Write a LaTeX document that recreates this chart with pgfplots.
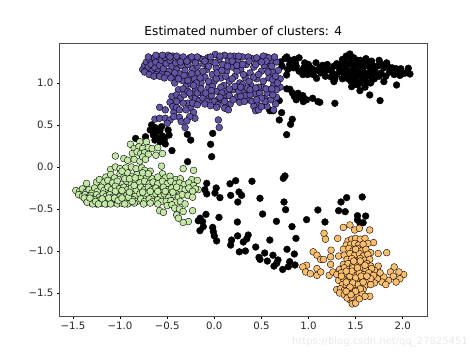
\documentclass[border=0pt]{standalone}
\usepackage{fontspec}
\setmainfont{DejaVu Sans}
\usepackage{pgfplots}
\pgfplotsset{compat=1.18}
\definecolor{cpurple}{RGB}{98,83,165}
\definecolor{cgreen}{RGB}{195,232,165}
\definecolor{corange}{RGB}{253,190,110}
\begin{document}
\begin{tikzpicture}[x=1pt,y=1pt]
\useasboundingbox (0,0) rectangle (474,355);
\begin{axis}[at={(59.5pt,39pt)},anchor=south west,scale only axis,width=367.5pt,height=273pt,
 xmin=-1.643,xmax=2.258,ymin=-1.774,ymax=1.476,
 xtick={-1.5,-1,-0.5,0,0.5,1,1.5,2},ytick={-1.5,-1,-0.5,0,0.5,1},
 xticklabels={−1.5,−1.0,−0.5,0.0,0.5,1.0,1.5,2.0},
 yticklabels={−1.5,−1.0,−0.5,0.0,0.5,1.0},
 tick style={black,line width=0.6pt},tick align=outside,major tick length=2.6pt,
 axis line style={black!70,line width=0.8pt},
 tick label style={font=\fontsize{10.2}{12}\selectfont,text=black!85},
 xtick pos=lower,ytick pos=left,
 title={Estimated number of clusters: 4},title style={font=\fontsize{12.2}{14}\selectfont,yshift=-2pt},
 every axis plot/.style={only marks,mark=*,mark size=3.4pt,mark options={draw=black,line width=0.9pt}}]
% noise
\addplot[mark options={fill=black}] coordinates {
(-0.08,-0.195)(-0.10,-0.27)(-0.08,-0.32)(0.02,-0.25)(0.007,-0.31)(0.06,-0.365)(0.167,-0.20)(0.227,-0.163)(0.40,-0.17)(0.174,-0.338)(0.262,-0.298)(0.29,-0.338)(0.25,-0.417)(0.485,-0.373)(0.733,-0.135)(0.75,-0.107)(0.74,-0.417)(0.757,-0.508)(0.513,-0.56)(0.66,-0.647)(0.245,-0.655)(0.05,-0.60)(-0.088,-0.564)(-0.15,-0.61)(-0.124,-0.65)(-0.17,-0.64)(-0.117,-0.71)(-0.152,-0.758)(-0.017,-0.72)(-0.01,-0.77)(0,-0.82)(0.025,-0.88)(0.184,-0.87)(0.174,-0.93)(0.248,-0.82)(0.36,-0.81)(0.344,-0.857)(0.308,-0.893)(0.59,-0.87)(0.867,-0.85)(0.825,-0.71)(0.98,-0.627)(1.10,-0.512)(1.175,-0.655)(1.32,-0.52)(1.39,-0.532)(1.345,-0.417)(1.405,-0.365)(1.57,-0.357)(1.52,-0.58)(1.607,-0.584)(1.52,-0.63)(1.547,-0.67)(1.58,-0.663)(0.266,-1.01)(0.33,-1.0)(0.44,-0.953)(0.535,-1.024)(0.475,-1.076)(0.485,-1.10)(0.563,-1.12)(0.623,-1.05)(0.676,-1.107)(0.662,-1.147)(0.634,-1.18)(0.772,-0.98)(0.85,-1.036)(0.80,-1.127)(0.857,-1.167)(0.786,-1.187)(0.726,-1.22)
(-0.665,0.50)(-0.68,0.44)(-0.577,0.433)(-0.49,0.44)(-0.48,0.38)(-0.647,0.38)(-0.63,0.32)(-0.577,0.30)(-0.52,0.274)(-0.449,0.195)(-0.286,0.389)(-0.25,0.32)(-0.017,0.40)(-0.039,0.27)(-0.028,0.123)(-0.283,0.063)(-0.835,0.34)(-0.73,0.36)(-0.61,0.42)(-0.55,0.37)(-0.60,0.34)(-0.53,0.33)(-0.63,0.47)(-0.56,0.48)
(0.69,0.79)(0.612,0.67)(0.715,0.647)(0.69,0.56)(0.828,0.568)(0.81,0.508)(0.768,0.385)(0.59,0.67)(0.626,0.67)(0.768,1.095)(1.086,1.055)(1.27,1.016)(1.80,1.016)(1.935,0.976)(1.458,0.956)(1.546,0.909)(1.65,0.857)(1.76,0.79)(1.28,0.758)(0.803,0.925)(0.77,0.93)(0.89,0.877)(0.945,0.778)(0.87,0.80)(0.92,0.83)(1.044,0.818)(1.10,0.778)(1.12,0.77)(0.83,0.88)(0.98,0.80)(0.94,0.85)(0.85,0.84)
(0.70,1.25)(0.75,1.29)(0.77,1.31)(0.80,1.22)(0.85,1.28)(0.87,1.20)(0.90,1.30)(0.93,1.15)(0.96,1.24)(0.99,1.10)(1.02,1.18)(1.05,1.16)(1.08,1.24)(1.10,1.15)(1.13,1.12)(1.15,1.21)(1.18,1.08)(1.21,1.16)(1.24,1.07)(1.27,1.20)(1.30,1.23)(1.30,1.10)(1.33,1.16)(1.36,1.28)(1.36,1.05)(1.39,1.20)(1.40,1.32)(1.41,1.10)(1.44,1.345)(1.44,1.25)(1.45,1.02)(1.46,1.15)(1.48,1.30)(1.49,1.08)(1.51,1.21)(1.52,0.98)(1.54,1.13)(1.55,1.27)(1.57,1.04)(1.58,1.18)(1.60,0.95)(1.61,1.29)(1.63,1.10)(1.64,1.20)(1.66,1.00)(1.67,1.26)(1.69,1.14)(1.70,1.05)(1.73,1.20)(1.75,1.27)(1.77,1.12)(1.80,1.18)(1.83,1.24)(1.86,1.13)(1.89,1.18)(1.91,1.10)(1.95,1.14)(1.98,1.17)(2.00,1.11)(2.03,1.12)(2.06,1.175)(2.077,1.107)(1.40,1.15)(1.50,1.15)(1.55,1.10)(1.60,1.12)(1.60,1.05)(1.45,1.10)(1.50,1.03)(1.65,1.08)(1.70,1.15)(1.35,1.13)(1.75,1.08)(0.80,1.27)(0.86,1.24)(0.95,1.18)(1.00,1.14)(0.72,1.20)
(0.78,1.16)(0.84,1.18)(0.90,1.14)(0.94,1.10)(1.00,1.22)(1.05,1.10)(1.12,1.18)(1.17,1.14)(1.20,1.22)(1.25,1.13)(1.28,1.05)(1.33,1.22)(1.38,1.08)(1.42,1.22)(1.47,1.22)(1.52,1.09)(1.56,1.20)(1.62,1.24)(1.66,1.16)(1.72,1.10)(1.78,1.22)(1.82,1.08)(1.85,1.19)(1.93,1.17)(1.97,1.09)(1.55,1.00)(1.48,0.98)(1.42,1.05)(1.62,1.00)(1.68,1.05)(1.58,1.25)(1.68,1.21)(1.52,1.27)(1.45,1.29)(1.38,1.25)
};
% cluster 1
\addplot[mark options={fill=cpurple}] coordinates {
(-0.76,1.16)(-0.74,1.21)(-0.72,1.25)(-0.72,1.15)(-0.70,1.19)(-0.68,1.27)(-0.67,1.22)(-0.66,1.14)(-0.64,1.30)(-0.63,1.18)(-0.62,1.25)(-0.60,1.13)(-0.59,1.31)(-0.58,1.21)(-0.56,1.27)(-0.55,1.12)(-0.54,1.17)(-0.52,1.30)(-0.51,1.23)(-0.49,1.33)(-0.48,1.14)(-0.47,1.27)(-0.45,1.20)(-0.44,1.32)(-0.43,1.08)(-0.41,1.24)(-0.40,1.16)(-0.38,1.29)(-0.37,1.11)(-0.35,1.21)(-0.34,1.03)(-0.33,1.27)(-0.31,1.15)(-0.30,0.96)(-0.28,1.22)(-0.27,1.08)(-0.26,1.30)(-0.25,0.99)(-0.23,1.17)(-0.22,1.27)(-0.21,1.05)(-0.20,0.92)(-0.18,1.20)(-0.17,1.12)(-0.15,1.29)(-0.14,1.00)(-0.12,0.88)(-0.11,1.23)(-0.10,1.07)(-0.08,1.16)(-0.07,1.30)(-0.06,0.95)(-0.05,0.83)(-0.03,1.25)(-0.02,1.10)(0.00,1.02)(0.01,1.34)(0.02,1.18)(0.03,0.90)(0.04,0.80)(0.05,1.28)(0.07,1.06)(0.09,1.22)(0.10,0.97)(0.11,1.33)(0.12,0.85)(0.13,1.14)(0.15,1.27)(0.16,1.02)(0.17,0.75)(0.19,1.19)(0.20,0.92)(0.21,1.32)(0.22,1.08)(0.24,0.83)(0.25,1.26)(0.27,1.00)(0.28,1.16)(0.30,1.31)(0.31,0.90)(0.33,1.06)(0.34,1.22)(0.36,0.80)(0.38,1.12)(0.39,0.97)(0.40,1.29)(0.42,1.19)(0.43,0.87)(0.45,1.05)(0.46,0.74)(0.48,1.26)(0.50,1.14)(0.51,0.95)(0.53,0.82)(0.55,1.31)(0.56,1.20)(0.58,1.06)(0.59,0.90)(0.60,1.27)(0.62,1.13)(0.63,0.98)(0.66,1.25)(0.66,0.83)(0.68,1.15)(0.70,1.05)(0.70,0.95)(0.65,0.75)(0.60,0.80)(0.56,0.72)
(-0.74,1.13)(-0.69,1.10)(-0.62,1.10)(-0.50,1.10)(-0.42,1.00)(-0.38,0.92)(-0.33,0.93)(-0.45,0.84)(-0.40,0.86)(-0.36,0.82)(-0.32,0.86)(-0.28,0.90)(-0.24,0.84)(-0.20,0.82)(-0.16,0.79)(-0.12,0.82)(-0.08,0.78)(-0.03,0.85)(0.00,0.78)(0.04,0.74)(0.08,0.80)(0.12,0.72)(0.14,0.90)(0.22,0.96)(0.26,0.90)(0.30,0.98)(0.35,0.94)(0.40,0.78)(0.42,0.72)(0.44,0.67)(0.47,0.68)(0.50,0.72)(0.54,0.78)(0.63,0.68)(0.48,0.88)(0.56,0.88)(0.62,0.86)
(-0.58,0.71)(-0.47,0.77)(-0.44,0.72)(-0.43,0.65)(-0.40,0.71)(-0.37,0.68)(-0.28,0.76)(-0.25,0.70)(-0.22,0.65)(0.025,0.71)(0.11,0.70)(0.15,0.68)(-0.63,0.57)(-0.58,0.58)(-0.52,0.58)(-0.47,0.56)(-0.43,0.60)(-0.37,0.59)(-0.35,0.54)(-0.31,0.47)(-0.205,0.58)(-0.26,0.60)(-0.29,0.55)(0.043,0.56)(0.053,0.47)(-0.50,0.52)(-0.30,0.68)(-0.52,0.68)
(-0.70,1.31)(-0.62,1.33)(-0.55,1.33)(-0.47,1.31)(-0.40,1.32)(-0.33,1.31)(-0.29,1.26)(-0.24,1.31)(-0.18,1.31)(-0.12,1.28)(-0.04,1.31)(0.06,1.32)(0.17,1.32)(0.26,1.32)(0.36,1.31)(0.45,1.30)(0.52,1.32)(0.58,1.30)(0.64,1.31)
(-0.42,1.12)(-0.46,1.06)(-0.38,1.05)(-0.32,1.09)(-0.28,1.03)(-0.24,1.11)(-0.19,1.00)(-0.15,1.06)(-0.12,1.14)(-0.06,1.02)(-0.06,1.20)(-0.02,0.96)(0.02,1.05)(0.03,1.12)(0.07,0.95)(0.08,1.15)(0.12,1.08)(0.14,1.20)(0.16,0.93)(0.19,1.05)(0.24,1.14)(0.24,1.21)(0.28,0.95)(0.31,1.10)(0.33,0.85)(0.37,1.02)(0.37,1.26)(0.42,1.07)(0.44,1.22)(0.47,0.95)(0.47,1.10)(0.52,1.02)(0.53,1.21)(0.55,0.93)(0.57,1.13)(0.61,1.20)(0.62,1.04)(0.65,1.08)(0.66,0.92)(0.67,1.00)(0.61,0.93)(0.55,1.26)(0.50,1.25)(0.30,1.22)(0.19,1.26)(0.01,1.24)(-0.10,1.26)(-0.20,1.24)(-0.36,1.25)
(-0.26,0.88)(-0.22,0.97)(-0.18,0.88)(-0.14,0.93)(-0.09,0.88)(-0.03,0.91)(0.08,0.88)(0.06,0.83)(0.11,0.78)(0.16,0.85)(0.20,0.80)(0.27,0.77)(0.28,0.84)(0.32,0.78)(0.38,0.86)(0.38,0.92)(0.44,0.94)(0.50,0.82)(0.45,0.80)
(-0.64,1.08)(-0.58,1.08)(-0.53,1.06)(-0.40,0.78)(-0.33,0.76)(-0.23,0.76)(-0.18,0.74)(-0.10,0.75)(-0.04,0.73)
};
% cluster 2
\addplot[mark options={fill=cgreen}] coordinates {
(-0.89,0.27)(-0.79,0.30)(-0.72,0.30)(-0.85,0.22)(-0.80,0.24)(-0.76,0.22)(-0.70,0.23)(-0.66,0.22)(-0.60,0.23)(-0.87,0.16)(-0.82,0.18)(-0.78,0.16)(-0.74,0.17)(-0.70,0.15)(-0.62,0.14)(-0.55,0.16)(-1.05,0.13)(-0.96,0.10)(-0.92,0.08)(-0.85,0.09)(-0.79,0.07)(-0.76,0.12)(-0.73,0.09)(-0.56,0.01)(-0.33,-0.02)(-0.22,-0.04)(-1.10,-0.03)(-1.05,0.00)(-1.00,-0.02)(-0.94,-0.01)(-0.88,0.00)(-0.83,-0.02)(-0.77,-0.01)(-0.74,-0.04)(-0.68,-0.05)(-0.55,-0.08)
(-1.15,-0.12)(-1.10,-0.09)(-1.06,-0.13)(-1.00,-0.08)(-0.96,-0.12)(-0.92,-0.07)(-0.87,-0.11)(-0.82,-0.09)(-0.78,-0.13)(-0.72,-0.11)(-0.66,-0.14)(-0.60,-0.12)(-0.52,-0.13)(-0.47,-0.11)(-0.41,-0.15)(-0.36,-0.14)(-0.24,-0.15)(-0.18,-0.16)
(-1.355,-0.195)(-1.25,-0.18)(-1.22,-0.15)(-1.17,-0.18)(-1.13,-0.16)(-1.08,-0.19)(-1.03,-0.17)(-0.97,-0.20)(-0.93,-0.17)(-0.88,-0.20)(-0.84,-0.16)(-0.79,-0.19)(-0.74,-0.17)(-0.69,-0.20)(-0.65,-0.18)(-0.60,-0.20)(-0.55,-0.17)(-0.50,-0.20)(-0.46,-0.17)(-0.41,-0.20)(-0.37,-0.19)(-0.32,-0.21)(-0.27,-0.19)(-0.22,-0.22)(-0.17,-0.27)(-0.20,-0.26)
(-1.47,-0.28)(-1.43,-0.29)(-1.40,-0.26)(-1.36,-0.30)(-1.33,-0.27)(-1.30,-0.31)(-1.27,-0.25)(-1.24,-0.29)(-1.20,-0.24)(-1.17,-0.28)(-1.13,-0.24)(-1.09,-0.27)(-1.05,-0.23)(-1.01,-0.26)(-0.96,-0.24)(-0.92,-0.27)(-0.88,-0.25)(-0.83,-0.28)(-0.78,-0.24)(-0.74,-0.27)(-0.70,-0.24)(-0.66,-0.27)(-0.62,-0.25)(-0.58,-0.28)(-0.54,-0.24)(-0.49,-0.27)(-0.45,-0.25)(-0.41,-0.28)(-0.36,-0.26)(-0.31,-0.27)(-0.27,-0.25)(-0.23,-0.29)
(-1.44,-0.33)(-1.40,-0.35)(-1.37,-0.33)(-1.34,-0.36)(-1.31,-0.34)(-1.28,-0.37)(-1.25,-0.33)(-1.22,-0.36)(-1.18,-0.32)(-1.15,-0.35)(-1.11,-0.33)(-1.08,-0.36)(-1.04,-0.32)(-1.00,-0.35)(-0.96,-0.31)(-0.93,-0.34)(-0.88,-0.32)(-0.84,-0.35)(-0.79,-0.32)(-0.75,-0.35)(-0.71,-0.32)(-0.66,-0.34)(-0.62,-0.32)(-0.57,-0.35)(-0.53,-0.32)(-0.48,-0.36)(-0.43,-0.33)(-0.38,-0.36)(-0.34,-0.33)(-0.28,-0.34)(-0.23,-0.36)
(-1.36,-0.40)(-1.33,-0.38)(-1.30,-0.41)(-1.27,-0.39)(-1.24,-0.42)(-1.21,-0.39)(-1.18,-0.42)(-1.14,-0.39)(-1.11,-0.42)(-1.07,-0.39)(-1.04,-0.42)(-1.00,-0.39)(-0.97,-0.42)(-0.93,-0.39)(-0.90,-0.42)(-0.86,-0.39)(-0.82,-0.41)(-0.78,-0.38)(-0.74,-0.41)(-0.69,-0.38)(-0.65,-0.41)(-0.60,-0.39)(-0.56,-0.41)(-0.51,-0.41)(-0.46,-0.40)(-0.41,-0.42)(-0.36,-0.41)(-0.31,-0.44)
(-1.30,-0.43)(-1.25,-0.44)(-1.20,-0.43)(-1.14,-0.44)(-1.09,-0.43)(-1.03,-0.44)(-0.98,-0.43)(-0.92,-0.44)(-0.85,-0.43)(-0.75,-0.44)(-0.68,-0.43)(-0.60,-0.44)(-0.50,-0.46)(-0.45,-0.45)(-0.42,-0.49)(-0.37,-0.50)(-0.58,-0.52)(-0.54,-0.54)(-0.40,-0.57)(-0.33,-0.53)(-0.275,-0.65)(-0.33,-0.66)(-0.38,-0.61)(-0.23,-0.52)
(-1.38,-0.37)(-1.35,-0.42)(-1.32,-0.37)(-1.29,-0.44)(-1.26,-0.41)(-1.23,-0.44)(-1.19,-0.38)(-1.16,-0.44)(-1.12,-0.37)(-1.10,-0.44)(-1.06,-0.37)(-1.02,-0.40)(-0.98,-0.37)(-0.95,-0.44)(-0.91,-0.36)(-0.87,-0.41)(-1.05,-0.29)(-0.98,-0.28)(-0.90,-0.30)(-0.85,-0.22)(-0.76,-0.30)(-0.68,-0.29)(-0.60,-0.29)(-0.52,-0.29)(-0.44,-0.30)(-0.40,-0.24)(-0.95,-0.14)(-0.90,-0.14)(-0.84,-0.13)(-0.76,-0.07)(-0.70,-0.08)(-0.98,-0.05)
};
% cluster 3
\addplot[mark options={fill=corange}] coordinates {
(1.37,-0.72)(1.44,-0.69)(1.49,-0.75)(1.54,-0.73)(1.65,-0.75)(1.165,-0.79)(1.18,-0.86)(1.31,-0.85)(1.05,-1.01)(1.09,-1.05)(1.13,-1.10)(1.16,-1.10)(1.24,-0.99)(1.235,-1.07)(1.235,-1.16)(1.32,-1.06)(1.83,-1.02)(1.74,-1.03)(1.69,-0.90)(0.98,-1.17)(0.94,-1.19)(0.97,-1.25)(1.02,-1.27)(1.09,-1.29)(1.09,-1.21)(1.13,-1.25)(1.22,-1.29)(1.26,-1.25)(2.01,-1.28)(1.96,-1.25)(1.91,-1.19)(1.87,-1.25)(1.90,-1.30)(1.85,-1.35)(1.97,-1.33)(1.93,-1.37)(1.80,-1.31)(1.76,-1.26)(1.74,-1.18)(1.78,-1.37)(1.82,-1.40)(1.73,-1.33)(1.70,-1.23)(1.70,-1.38)
(1.44,-1.58)(1.465,-1.63)(1.50,-1.62)(1.65,-1.54)(1.42,-0.88)(1.46,-0.86)(1.50,-0.85)(1.55,-0.86)(1.60,-0.85)(1.63,-0.91)(1.40,-0.93)(1.45,-0.92)(1.49,-0.91)(1.53,-0.93)(1.58,-0.92)(1.37,-0.98)(1.43,-0.97)(1.47,-1.00)(1.52,-0.97)(1.56,-1.00)(1.61,-0.98)(1.66,-1.02)(1.38,-1.05)(1.44,-1.03)(1.49,-1.05)(1.54,-1.03)(1.58,-1.06)(1.63,-1.04)(1.41,-1.10)(1.46,-1.09)(1.50,-1.12)(1.55,-1.09)(1.60,-1.11)(1.65,-1.10)(1.37,-1.16)(1.42,-1.15)(1.47,-1.17)(1.52,-1.14)(1.56,-1.17)(1.62,-1.15)(1.66,-1.18)
(1.33,-1.22)(1.38,-1.20)(1.43,-1.22)(1.47,-1.20)(1.52,-1.23)(1.57,-1.20)(1.61,-1.22)(1.67,-1.21)(1.30,-1.28)(1.35,-1.26)(1.40,-1.29)(1.45,-1.26)(1.49,-1.29)(1.54,-1.26)(1.59,-1.28)(1.64,-1.26)(1.69,-1.29)(1.32,-1.35)(1.37,-1.33)(1.42,-1.35)(1.47,-1.33)(1.52,-1.36)(1.57,-1.33)(1.62,-1.35)(1.66,-1.33)(1.36,-1.40)(1.40,-1.42)(1.45,-1.40)(1.50,-1.42)(1.55,-1.40)(1.60,-1.41)(1.66,-1.40)(1.30,-1.46)(1.34,-1.45)(1.38,-1.47)(1.43,-1.46)(1.48,-1.47)(1.53,-1.46)(1.58,-1.46)(1.33,-1.50)(1.38,-1.52)(1.42,-1.51)(1.47,-1.50)(1.52,-1.53)(1.57,-1.51)(1.60,-1.54)(1.41,-1.56)(1.46,-1.55)(1.54,-1.57)
(1.50,-0.98)(1.55,-1.12)(1.48,-1.12)(1.52,-1.20)(1.44,-1.30)(1.50,-1.32)(1.56,-1.30)(1.47,-1.38)(1.53,-1.40)(1.40,-1.37)(1.44,-1.43)(1.58,-1.37)(1.62,-1.30)(1.46,-1.24)(1.60,-1.17)(1.40,-1.24)(1.35,-1.30)(1.55,-1.45)(1.50,-1.48)(1.45,-1.52)(1.40,-1.48)
};
\end{axis}
\node[anchor=center,text=black!9,font=\fontsize{10}{12}\selectfont] at (380,13) {https://blog.csdn.net/qq\_27825451};
\end{tikzpicture}
\end{document}
